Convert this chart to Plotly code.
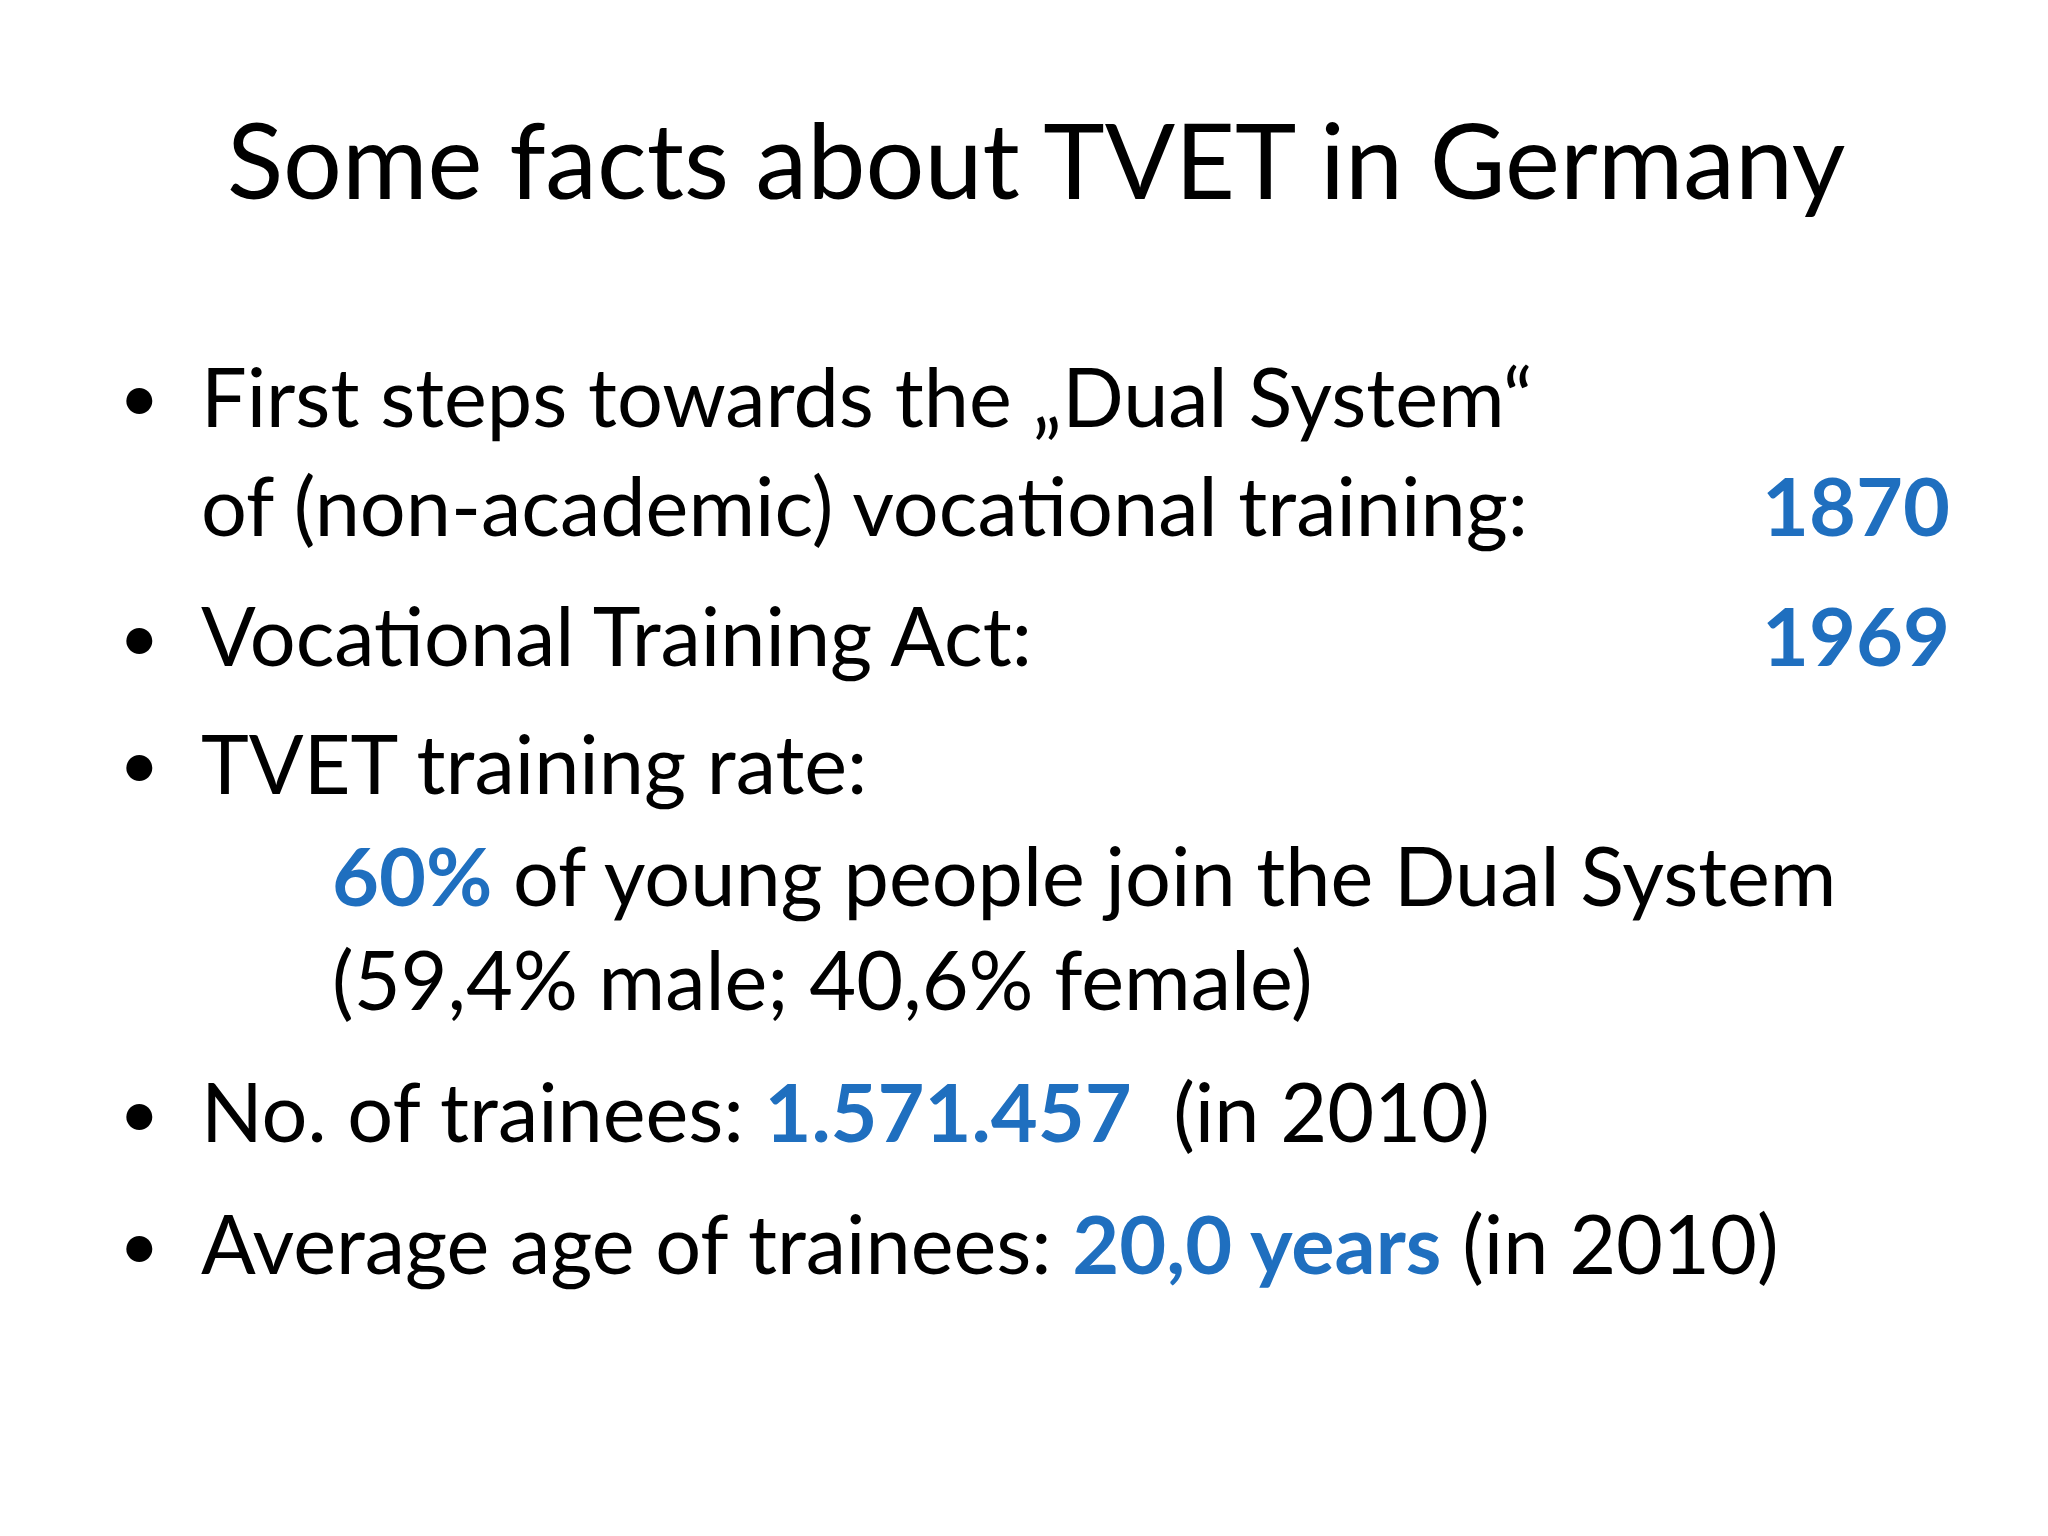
import plotly.graph_objects as go

BLUE = "#1f6fbf"
FONT = "Lato"

# slide text
title = "Some facts about TVET in Germany"

bullet_rows = [0.748, 0.592, 0.509, 0.282, 0.196]   # rows with a bullet (paper y)

lines = [
    # (x, y, text)
    (0.0935, 0.748, "First steps towards the „Dual System“"),
    (0.0935, 0.677, "of (non-academic) vocational training:"),
    (0.0935, 0.592, "Vocational Training Act:"),
    (0.0935, 0.509, "TVET training rate:"),
    (0.157, 0.436, f"<b><span style='color:{BLUE}'>60%</span></b> of young people join the Dual System"),
    (0.157, 0.368, "(59,4% male; 40,6% female)"),
    (0.0935, 0.282, f"No. of trainees: <b><span style='color:{BLUE}'>1.571.457</span></b>  (in 2010)"),
    (0.0935, 0.196, f"Average age of trainees: <b><span style='color:{BLUE}'>20,0 years</span></b> (in 2010)"),
]

years = ["1870", "1969"]
year_rows = [0.677, 0.592]

fig = go.Figure()

ann = [dict(text=title, x=0.502, y=0.902, xref="paper", yref="paper",
            showarrow=False, xanchor="center", yanchor="middle",
            font=dict(family=FONT, size=104, color="black"))]

for y in bullet_rows:
    ann.append(dict(text="•", x=0.064, y=y, xref="paper", yref="paper",
                    showarrow=False, xanchor="center", yanchor="middle",
                    font=dict(family=FONT, size=70, color="black")))

for x, y, t in lines:
    ann.append(dict(text=t, x=x, y=y, xref="paper", yref="paper",
                    showarrow=False, xanchor="left", yanchor="middle",
                    font=dict(family=FONT, size=81, color="black")))

for t, y in zip(years, year_rows):
    ann.append(dict(text=f"<b>{t}</b>", x=0.949, y=y, xref="paper", yref="paper",
                    showarrow=False, xanchor="right", yanchor="middle",
                    font=dict(family=FONT, size=81, color=BLUE)))

fig.update_layout(
    width=2048, height=1536,
    margin=dict(l=0, r=0, t=0, b=0),
    paper_bgcolor="white", plot_bgcolor="white",
    xaxis=dict(visible=False), yaxis=dict(visible=False),
    annotations=ann,
)

fig.write_html("out.html")
